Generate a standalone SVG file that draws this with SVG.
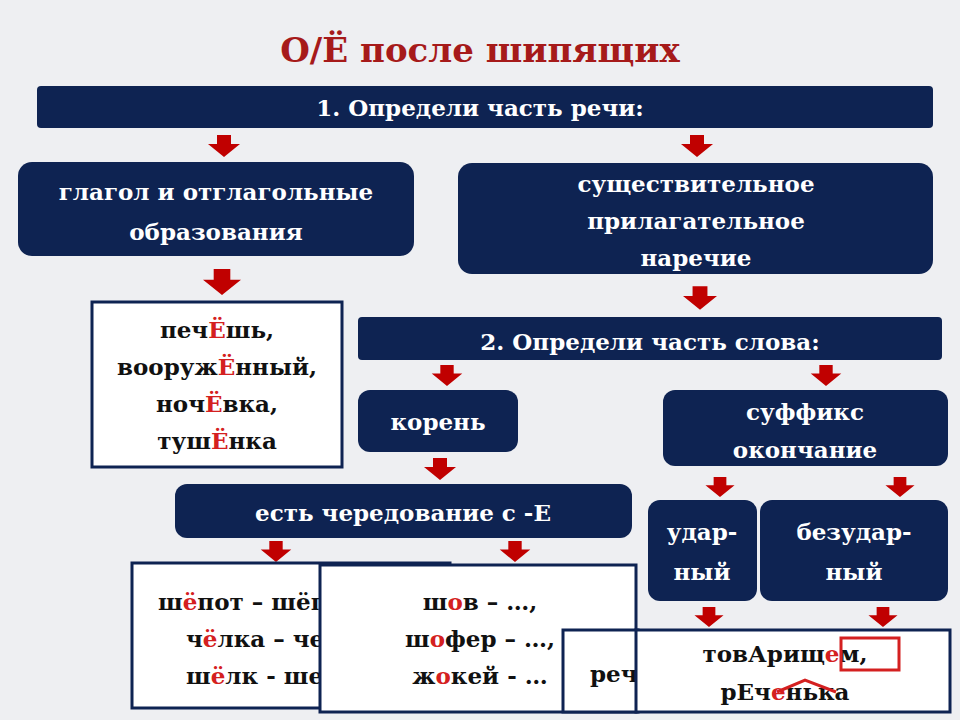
<svg xmlns="http://www.w3.org/2000/svg" width="960" height="720" viewBox="0 0 960 720">
<defs>
<style>
.t{font-family:"DejaVu Serif","Liberation Serif",serif;font-weight:bold;text-anchor:middle}
.w{fill:#fff;font-size:23px}
.b{fill:#111;font-size:23px}
.nav{fill:#0e2352}
.wb{fill:#fff;stroke:#0e2352;stroke-width:3}
.r{fill:#d42020}
.ar{fill:#c00000}
</style>
<symbol id="arr" viewBox="0 0 32 22" overflow="visible"><path d="M9 0H23V9H32L16 22L0 9H9Z"/></symbol>
<clipPath id="c3"><rect x="563" y="630" width="75" height="82"/></clipPath>
</defs>
<rect width="960" height="720" fill="#eeeff2"/>
<text class="t" x="480" y="62" font-size="34" fill="#a61a1a">О/Ё после шипящих</text>
<g id="banner1"><rect class="nav" x="37" y="86" width="896" height="42" rx="4"/><text class="t w" x="480" y="116">1. Определи часть речи:</text></g>
<g id="glagol"><rect class="nav" x="18" y="162" width="396" height="94" rx="14"/><text class="t w" x="216" y="200">глагол  и отглагольные</text><text class="t w" x="216" y="240">образования</text></g>
<g id="noun"><rect class="nav" x="458" y="163" width="475" height="111" rx="14"/><text class="t w" x="696" y="192">существительное</text><text class="t w" x="696" y="229">прилагательное</text><text class="t w" x="696" y="266">наречие</text></g>
<g id="ex1"><rect class="wb" x="92" y="302" width="250" height="165"/>
<text class="t b" x="217" y="338">печ<tspan class="r">Ё</tspan>шь,</text>
<text class="t b" x="217" y="375">вооруж<tspan class="r">Ё</tspan>нный,</text>
<text class="t b" x="217" y="412">ноч<tspan class="r">Ё</tspan>вка,</text>
<text class="t b" x="217" y="449">туш<tspan class="r">Ё</tspan>нка</text></g>
<g id="banner2"><rect class="nav" x="358" y="317" width="584" height="43" rx="4"/><text class="t w" x="650" y="350">2. Определи часть слова:</text></g>
<g id="koren"><rect class="nav" x="358" y="390" width="160" height="62" rx="12"/><text class="t w" x="438" y="430">корень</text></g>
<g id="suffix"><rect class="nav" x="663" y="390" width="285" height="76" rx="12"/><text class="t w" x="805" y="420">суффикс</text><text class="t w" x="805" y="458">окончание</text></g>
<g id="cher"><rect class="nav" x="175" y="484" width="457" height="54" rx="12"/><text class="t w" x="403" y="521">есть чередование с -Е</text></g>
<g id="udar"><rect class="nav" x="648" y="500" width="109" height="101" rx="12"/><text class="t w" x="702" y="540">удар-</text><text class="t w" x="702" y="580">ный</text></g>
<g id="bezudar"><rect class="nav" x="760" y="500" width="188" height="101" rx="12"/><text class="t w" x="854" y="540">безудар-</text><text class="t w" x="854" y="580">ный</text></g>
<g id="connectors" class="ar">
<use href="#arr" x="208" y="135" width="32" height="22"/>
<use href="#arr" x="681" y="135" width="32" height="22"/>
<use href="#arr" x="203" y="264" width="38" height="36"/>
<use href="#arr" x="683" y="284" width="34" height="28"/>
<use href="#arr" x="431" y="365" width="32" height="21"/>
<use href="#arr" x="810" y="365" width="32" height="21"/>
<use href="#arr" x="424" y="458" width="32" height="22"/>
<use href="#arr" x="704" y="477" width="32" height="20"/>
<use href="#arr" x="884" y="477" width="32" height="20"/>
<use href="#arr" x="260" y="541" width="32" height="21"/>
<use href="#arr" x="499" y="541" width="32" height="21"/>
<use href="#arr" x="693" y="607" width="32" height="20"/>
<use href="#arr" x="867" y="607" width="32" height="20"/>
</g>
<g id="ex2"><rect class="wb" x="132" y="563" width="318" height="145"/>
<text class="t b" x="158" y="610" style="text-anchor:start">ш<tspan class="r">ё</tspan>пот – шёпот</text>
<text class="t b" x="186" y="647" style="text-anchor:start">ч<tspan class="r">ё</tspan>лка – чело</text>
<text class="t b" x="186" y="684" style="text-anchor:start">ш<tspan class="r">ё</tspan>лк - шелка</text></g>
<g id="ex3"><rect class="wb" x="320" y="565" width="316" height="147"/>
<text class="t b" x="480" y="610">ш<tspan class="r">о</tspan>в – …,</text>
<text class="t b" x="480" y="647">ш<tspan class="r">о</tspan>фер – …,</text>
<text class="t b" x="480" y="684">ж<tspan class="r">о</tspan>кей - …</text></g>
<g id="ex4"><rect class="wb" x="563" y="630" width="75" height="82"/>
<text class="t b" x="590" y="682" style="text-anchor:start" clip-path="url(#c3)">речонка</text></g>
<g id="ex5"><rect class="wb" x="636" y="630" width="314" height="82"/>
<text class="t b" x="785" y="662">товАрищ<tspan class="r">е</tspan>м,</text>
<text class="t b" x="785" y="700">рЕч<tspan class="r">е</tspan>нька</text>
<rect x="841" y="638" width="58" height="32" fill="none" stroke="#d42020" stroke-width="3"/>
<path d="M777 692L805 680L836 692" fill="none" stroke="#d42020" stroke-width="3"/></g>
</svg>
